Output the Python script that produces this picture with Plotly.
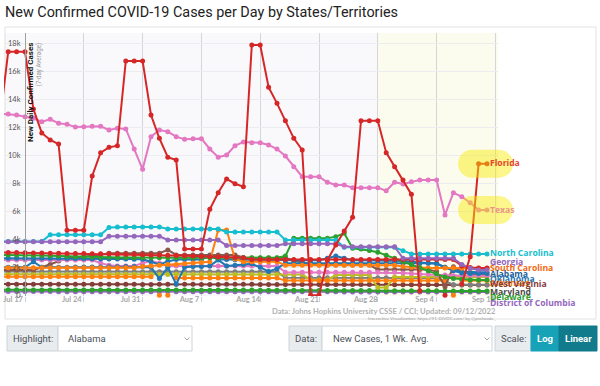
import plotly.graph_objects as go
from datetime import date, datetime, timedelta

# ---------------- data ----------------
# one value per day, Jul 14 .. Sep 10 2022 (59 days)
dates = [(date(2022, 7, 14) + timedelta(days=i)).isoformat() for i in range(59)]

week_ticks = ["2022-07-17", "2022-07-24", "2022-07-31", "2022-08-07", "2022-08-14",
              "2022-08-21", "2022-08-28", "2022-09-04", "2022-09-11"]
week_labels = ["Jul 17", "Jul 24", "Jul 31", "Aug 7", "Aug 14", "Aug 21", "Aug 28", "Sep 4", "Sep 11"]

y_ticks = [0, 2000, 4000, 6000, 8000, 10000, 12000, 14000, 16000, 18000]
y_labels = ["0", "2k", "4k", "6k", "8k", "10k", "12k", "14k", "16k", "18k"]

florida = [12400, 17400, 17400, 17400, 13300, 11600, 11100, 10800, 4650, 4650,
           4650, 8520, 10190, 10570, 10690, 16740, 16740, 16740, 12880, 11210,
           9860, 9660, 3300, 3300, 3300, 6140, 7330, 8310, 7970, 7760,
           17880, 17880, 14860, 13710, 12470, 11210, 10380, 0, 0, 2520,
           3590, 4600, 5570, 12470, 12470, 12470, 10190, 9190, 8240, 7210,
           300, None, None, None, None, 800, 2760, 9400, 9400]
texas = [12980, 12950, 12880, 12760, 12640, 12400, 12570, 12290, 12210, 12020,
         12040, 12070, 12070, 11810, 11930, 11880, 10450, 9000, 11330, 11810,
         11690, 11330, 11140, 11190, 11190, 10450, 9860, 10020, 10690, 10950,
         10900, 10900, 10740, 10450, 9950, 9190, 8470, 8470, 8470, 8070,
         7880, 7880, 7690, 7690, 7690, 7690, 7470, 8080, 7950, 8110,
         8240, 8240, 8240, 5740, 7330, 7040, 6610, 6090, 6090]
north_carolina = [3850, 3850, 3850, 3850, 3850, 3850, 4330, 4330, 4330, 4330,
                  4330, 4330, 4330, 4850, 4880, 4880, 4880, 4880, 4880, 4880,
                  4740, 4740, 4740, 4740, 4740, 4740, 4740, 4520, 4520, 4520,
                  4520, 4520, 4520, 4520, 3950, 3950, 3950, 3950, 3950, 3950,
                  3950, 3430, 3430, 3430, 3430, 3430, 3430, 3430, 3190, 2950,
                  2950, 2950, 2950, 2950, 2950, 2950, 2950, 2950, 2950]
georgia = [3830, 3830, 3830, 3830, 3830, 3830, 3830, 3830, 3830, 3830,
           3830, 3830, 3830, 4220, 4220, 4220, 4220, 4220, 4220, 4220,
           3950, 3950, 3950, 3950, 3950, 3950, 3950, 3560, 3560, 3560,
           3560, 3560, 3560, 3560, 3680, 3680, 3680, 3680, 3680, 3680,
           3680, 3470, 3470, 3470, 3470, 3470, 3470, 3470, 2640, 2640,
           2640, 2640, 2640, 2640, 2640, 2200, 1930, 1800, 1800]
tennessee = [3070, 3060, 3060, 3040, 3030, 3020, 3000, 3000, 2990, 2990,
             2980, 2970, 2960, 2960, 2950, 2940, 2930, 2900, 2880, 2870,
             2860, 2850, 2830, 2800, 2780, 2760, 2740, 2720, 2700, 2680,
             2550, 2550, 2550, 2550, 2550, 2550, 2550, 2550, 2550, 2550,
             2550, 2550, 2550, 2550, 2550, 2550, 2550, 2550, 2550, 2550,
             2550, 2550, 2550, 2550, 2550, 2100, 1980, 1950, 1950]
kentucky = [2880, 2880, 2870, 2860, 2850, 2840, 2820, 2800, 2780, 2760,
            2750, 2740, 2720, 2710, 2700, 2700, 2690, 2680, 2680, 2680,
            2680, 2680, 2680, 2680, 2680, 2680, 2680, 2680, 2680, 2680,
            2680, 2680, 2680, 2680, 2800, 4070, 4070, 4070, 4070, 4070,
            4190, 4430, 3360, 3300, 3200, 3080, 2860, 2640, 2420, 2200,
            1980, 1760, 1540, 1300, 1200, 1150, 1100, 1100, 1100]
oklahoma = [2640, 2640, 2650, 2640, 2630, 2640, 2650, 2640, 2630, 2620,
            2620, 2610, 2600, 2600, 2600, 2590, 2580, 2580, 2400, 2200,
            2420, 2560, 2560, 2560, 2560, 2800, 2560, 2550, 2540, 2530,
            2520, 2500, 2500, 2500, 2500, 2500, 2500, 2500, 2500, 2640,
            2800, 2640, 2500, 2500, 2500, 2500, 2500, 2500, 2450, 2400,
            2350, 2300, 2250, 2000, 1800, 1700, 1650, 1650, 1650]
alabama = [2000, 2000, 2000, 2000, 2400, 2000, 2000, 2000, 2010, 2020,
           2020, 2030, 2030, 2040, 2040, 2050, 2050, 2050, 2000, 1200,
           2000, 800, 2000, 2050, 2050, 2100, 2520, 2100, 2150, 2200,
           2250, 2000, 1700, 1900, 2290, 2290, 2290, 2290, 2290, 2290,
           2290, 2290, 2290, 2290, 2290, 2290, 2290, 2290, 2290, 2290,
           2290, 2290, 2290, 2000, 1750, 1600, 1550, 1550, 1550]
south_carolina = [1970, 1970, 1970, 1970, 1970, 1970, 1970, 1970, 1970, 1970,
                  1970, 1970, 1970, 1970, 1970, 1970, 1970, 2050, 2100, 2150,
                  2200, 2200, 2250, 2300, 2350, 2400, 4660, 4660, 2600, 2400,
                  2400, 2400, 2400, 2400, 2150, 2150, 2150, 2150, 2150, 2150,
                  2150, 2150, 2150, 2150, 2150, 2150, 2150, 2150, 2050, 2000,
                  1950, 1950, 1950, 1950, 1950, 1930, 1930, 1930, 1930]
virginia = [2520, 2520, 2520, 2520, 2520, 2520, 2520, 2520, 2520, 2520,
            2520, 2520, 2300, 2150, 2100, 2100, 2100, 2300, 2450, 2300,
            2100, 2100, 2100, 2100, 2100, 2100, 2100, 2100, 2100, 2100,
            2100, 2100, 2100, 2100, 1650, 1650, 1650, 1650, 1650, 1650,
            1650, 1650, 1650, 1650, 1650, 1650, 1650, 1650, 1600, 1550,
            1500, 1500, 1450, 1450, 1400, 1400, 1400, 1400, 1400]
mississippi = [1800, 1800, 1800, 1800, 1800, 2000, 2200, 2450, 2640, 2700,
               2750, 2800, 2900, 3000, 3000, 3000, 3000, 3000, 3000, 3000,
               3240, 2880, 2880, 2880, 2880, 2880, 2880, 2880, 2880, 2700,
               2660, 2660, 2660, 2660, 2660, 2500, 2350, 2200, 2160, 2160,
               2160, 2160, 2160, 2160, 2160, 1850, 1850, 1850, 1850, 1850,
               1850, 1850, 1700, 610, 2040, 1700, 1500, 1450, 1450]
arkansas = [1330, 1335, 1330, 1330, 1325, 1330, 1330, 1335, 1330, 1330,
            1330, 1325, 1330, 1330, 1330, 1330, 1330, 1325, 1320, None,
            None, 1230, 1230, 1235, 1230, 1230, 1230, 1225, 1230, 1230,
            1230, 1230, 1230, 1230, 1050, 1050, 1050, 1055, 1050, 1050,
            1050, 1050, 1050, 1045, 1050, 1050, 1050, 1050, 1050, 1050,
            1050, 1050, 1050, 1050, None, 1050, 1050, 1050, 1050]
louisiana = [1510, 1505, 1500, 1500, 1500, 1495, 1500, 1500, 1505, 1500,
             1500, 1500, 1495, 1495, 1500, 1500, 1500, 1495, 1490, 1490,
             1490, 1495, 1500, 1500, 1500, 1495, 1490, 1490, 1490, 1490,
             1490, 1490, 1485, 1480, 1480, 1480, 1480, 1100, 1100, 1100,
             1450, 1450, 1450, 1450, 1450, 550, 550, 1300, 1300, 1300,
             1300, 1300, 1300, 1300, 1300, 1300, 1300, 1300, 1300]
maryland = [1700, 1700, 1695, 1690, 1690, 1690, 1685, 1690, 1690, 1690,
            1690, 1685, 1680, 1680, 1685, 1690, 1690, 1690, 1685, 1680,
            1680, 1680, 1685, 1690, 1690, 1690, 1690, 1685, 1680, 1680,
            1680, 1680, 1680, 1680, 1260, 1260, 1260, 1255, 1255, 1250,
            1250, 1250, 1250, 1250, 1250, 1245, 1245, 1240, 1240, 1240,
            1240, 1240, 1240, 1000, 760, 760, 760, 760, 760]
west_virginia = [800, 795, 790, 790, 790, 785, 790, 790, 795, 790,
                 790, 785, 785, 790, 790, 790, 785, 780, 780, 785,
                 790, 790, 790, 785, 780, 780, 780, 785, 790, 790,
                 785, 780, 780, 775, 770, 770, 770, 775, 780, 780,
                 780, 775, 770, 770, 765, 760, 760, 760, 760, 755,
                 750, 750, 750, 745, 740, 740, 740, 740, 740]
delaware = [400, 395, 390, 390, 385, 385, 380, 380, 380, 385,
            385, 380, 380, 375, 375, 370, 370, 375, 380, 380,
            380, 375, 370, 370, 365, 365, 370, 370, 375, 375,
            370, 365, 360, 360, 355, 355, 350, 350, 350, 345,
            345, 340, 340, 335, 335, 330, 330, 330, 325, 325,
            320, 320, 320, 315, 315, 310, 310, 310, 310]
dc = [270, 268, 266, 265, 265, 264, 263, 262, 262, 261,
      260, 260, 259, 258, 258, 257, 257, 256, 256, 255,
      255, 254, 254, 253, 253, 252, 252, 251, 251, 250,
      250, 249, 249, 248, 248, 247, 247, 246, 246, 245,
      245, 244, 244, 243, 243, 242, 242, 241, 241, 240,
      240, 239, 239, 238, 238, 237, 237, 236, 236]

# days where a state reported zero (drawn as lone dots)
zero_dates_orange = ["2022-08-02", "2022-08-03", "2022-09-06"]
zero_vals_orange = [0, 0, 0]
zero_dates_red = ["2022-09-05"]
zero_vals_red = [0]

# draw order: first = bottom
series = [
    ("District of Columbia", "#9467bd", dc),
    ("Delaware", "#2ca02c", delaware),
    ("West Virginia", "#843c39", west_virginia),
    ("Maryland", "#7f7f7f", maryland),
    ("Louisiana", "#bcbd22", louisiana),
    ("Arkansas", "#ff7f0e", arkansas),
    ("Mississippi", "#8c564b", mississippi),
    ("Virginia", "#e377c2", virginia),
    ("Alabama", "#1f77b4", alabama),
    ("Oklahoma", "#1f77b4", oklahoma),
    ("South Carolina", "#ff7f0e", south_carolina),
    ("Kentucky", "#2ca02c", kentucky),
    ("Tennessee", "#d62728", tennessee),
    ("North Carolina", "#17becf", north_carolina),
    ("Georgia", "#9467bd", georgia),
    ("Texas", "#e377c2", texas),
    ("Florida", "#d62728", florida),
]

# end-label placement (label text, colour, label centre in px from the top)
end_labels = [
    ("Florida", "#e2452b", 162.7),
    ("Texas", "#eb948a", 210.0),
    ("North Carolina", "#17becf", 253.3),
    ("Georgia", "#9467bd", 261.7),
    ("South Carolina", "#f26a12", 267.7),
    ("Alabama", "#1f5f9a", 274.0),
    ("Oklahoma", "#1f77b4", 278.8),
    ("Arkansas", "#ff7f0e", 283.0),
    ("West Virginia", "#843c39", 283.6),
    ("Maryland", "#4d4d4d", 291.7),
    ("Delaware", "#2ca02c", 297.3),
    ("District of Columbia", "#9467bd", 303.3),
]

# ---------------- geometry ----------------
W_FIG, H_FIG = 600, 386
L, R, T, B = 4, 498, 33, 296
PW, PH = R - L, B - T
x_range = ["2022-07-14 12:00", "2022-09-11 07:26"]
y_range = [-50, 18736]


def px2x(px):
    return (px - L) / PW


def px2y(py):
    return (B - py) / PH


r0 = datetime.fromisoformat(x_range[0])
r1 = datetime.fromisoformat(x_range[1])


def date2paper(d):
    return (datetime.fromisoformat(d) - r0) / (r1 - r0)


fig = go.Figure()

for name, color, vals in series:
    fig.add_trace(go.Scatter(
        x=dates, y=vals, name=name, mode="lines+markers",
        line=dict(color=color, width=2),
        marker=dict(size=5, color=color),
        connectgaps=False, showlegend=False, hoverinfo="skip"))

fig.add_trace(go.Scatter(x=zero_dates_orange, y=zero_vals_orange, mode="markers",
                         marker=dict(size=5, color="#ff7f0e"), cliponaxis=False,
                         showlegend=False, hoverinfo="skip"))
fig.add_trace(go.Scatter(x=zero_dates_red, y=zero_vals_red, mode="markers",
                         marker=dict(size=5, color="#d62728"), cliponaxis=False,
                         showlegend=False, hoverinfo="skip"))


def stadium(xl, xr, r):
    k = 0.5523 * r
    a, b = xl + r, xr - r
    return (f"M {a},{-r} L {b},{-r} C {b + k},{-r} {xr},{-k} {xr},0 "
            f"C {xr},{k} {b + k},{r} {b},{r} L {a},{r} "
            f"C {a - k},{r} {xl},{k} {xl},0 C {xl},{-k} {a - k},{-r} {a},{-r} Z")


shapes = []
# incomplete-data shading
shapes.append(dict(type="rect", xref="x", yref="paper", x0="2022-08-28", x1=x_range[1],
                   y0=0, y1=1, fillcolor="#fcfcee", line=dict(width=0), layer="below"))
# outer frame
shapes.append(dict(type="rect", xref="paper", yref="paper", x0=px2x(5), x1=px2x(596),
                   y0=px2y(27), y1=px2y(319), line=dict(color="#e2e2e2", width=1),
                   fillcolor="rgba(0,0,0,0)", layer="below"))
# highlight pills around Florida and Texas
last_x = date2paper(dates[-1])
for vals in (florida, texas):
    shapes.append(dict(type="path", xref="paper", yref="y", xsizemode="pixel", ysizemode="pixel",
                       xanchor=last_x, yanchor=vals[-1], path=stadium(-29, 26, 14),
                       fillcolor="rgb(248,236,0)", opacity=0.45, line=dict(width=0), layer="above"))

# control bar
def box(x0, x1, fill, line="#ced4da"):
    shapes.append(dict(type="rect", xref="paper", yref="paper", x0=px2x(x0), x1=px2x(x1),
                       y0=px2y(351), y1=px2y(326), fillcolor=fill,
                       line=dict(color=line, width=1), layer="above"))


box(7, 58, "#e9ecef")
box(58, 192, "#ffffff")
box(289, 322, "#e9ecef")
box(322, 492, "#ffffff")
box(495, 531, "#e9ecef")
box(531, 559, "#17a2b8", "#17a2b8")
box(559, 597, "#117a8b", "#117a8b")
for cx in (187, 487):
    shapes.append(dict(type="path", xref="paper", yref="paper",
                       path=f"M {px2x(cx - 2.5)},{px2y(337.5)} L {px2x(cx)},{px2y(340)} L {px2x(cx + 2.5)},{px2y(337.5)}",
                       line=dict(color="#888", width=0.8), layer="above"))

ann = []
for text, color, ypx in end_labels:
    ann.append(dict(xref="x", x=dates[-1], yref="paper", y=px2y(ypx), text=text,
                    showarrow=False, xanchor="left", yanchor="middle", xshift=1,
                    font=dict(family="Open Sans", size=8.6, color=color, weight=700)))

ann.append(dict(xref="paper", yref="paper", x=px2x(30.5), y=px2y(41), text="New Daily Confirmed Cases",
                textangle=-90, showarrow=False, xanchor="center", yanchor="top",
                font=dict(family="Roboto", size=8, color="#111", weight=700)))
ann.append(dict(xref="paper", yref="paper", x=px2x(38.5), y=px2y(41), text="(7-day Average)",
                textangle=-90, showarrow=False, xanchor="center", yanchor="top",
                font=dict(family="Roboto", size=6.3, color="#999")))
ann.append(dict(xref="paper", yref="paper", x=px2x(498), y=px2y(311),
                text="Data: Johns Hopkins University CSSE / CCI; Updated: 09/12/2022",
                showarrow=False, xanchor="right", yanchor="middle",
                font=dict(family="Lato", size=7.6, color="#b0b0b0", weight=700)))
ann.append(dict(xref="paper", yref="paper", x=px2x(498), y=px2y(318),
                text="Interactive Visualization: https://91-DIVOC.com/ by @profwade_",
                showarrow=False, xanchor="right", yanchor="middle",
                font=dict(family="Lato", size=4.5, color="#a0a0a0")))


def ctl_text(x, t, color, anchor="left", weight=400):
    ann.append(dict(xref="paper", yref="paper", x=px2x(x), y=px2y(338.5), text=t,
                    showarrow=False, xanchor=anchor, yanchor="middle",
                    font=dict(family="Roboto", size=9.5, color=color, weight=weight)))


ctl_text(32.5, "Highlight:", "#495057", "center")
ctl_text(66, "Alabama", "#495057")
ctl_text(305.5, "Data:", "#495057", "center")
ctl_text(331, "New Cases, 1 Wk. Avg.", "#495057")
ctl_text(513, "Scale:", "#495057", "center")
ctl_text(545, "Log", "#ffffff", "center", 700)
ctl_text(578, "Linear", "#ffffff", "center", 700)

fig.update_layout(
    width=W_FIG, height=H_FIG,
    margin=dict(l=L, r=W_FIG - R, t=T, b=H_FIG - B, pad=0, autoexpand=False),
    paper_bgcolor="#ffffff", plot_bgcolor="#f9f9fb",
    title=dict(text="New Confirmed COVID-19 Cases per Day by States/Territories",
               x=5 / W_FIG, xanchor="left", y=1 - 12 / H_FIG, yanchor="middle",
               font=dict(family="Roboto", size=14.4, color="#222")),
    xaxis=dict(type="date", range=x_range, tickvals=week_ticks, ticktext=week_labels,
               automargin=False,
               showgrid=True, gridcolor="#d6d6da", gridwidth=1, zeroline=False,
               showline=False, ticks="outside", ticklen=5, tickcolor="#d0d0d0",
               ticklabelshift=-12, ticklabelstandoff=-9,
               tickfont=dict(family="Lato", size=7.5, color="#a8a8a8", weight=700)),
    yaxis=dict(range=y_range, tickvals=y_ticks, ticktext=y_labels, anchor="free",
               automargin=False,
               position=px2x(25), side="left", showline=True, linecolor="#a0a0a0",
               linewidth=1, showgrid=True, gridcolor="#ececf0", zeroline=False,
               ticks="", ticklabelstandoff=3,
               tickfont=dict(family="Lato", size=7.5, color="#555")),
    shapes=shapes, annotations=ann, showlegend=False,
)

# remove the browser's default page margin so the figure sits at the window origin
fig.write_html("out.html", config={"displayModeBar": False},
               post_script="document.body.style.margin='0';")
